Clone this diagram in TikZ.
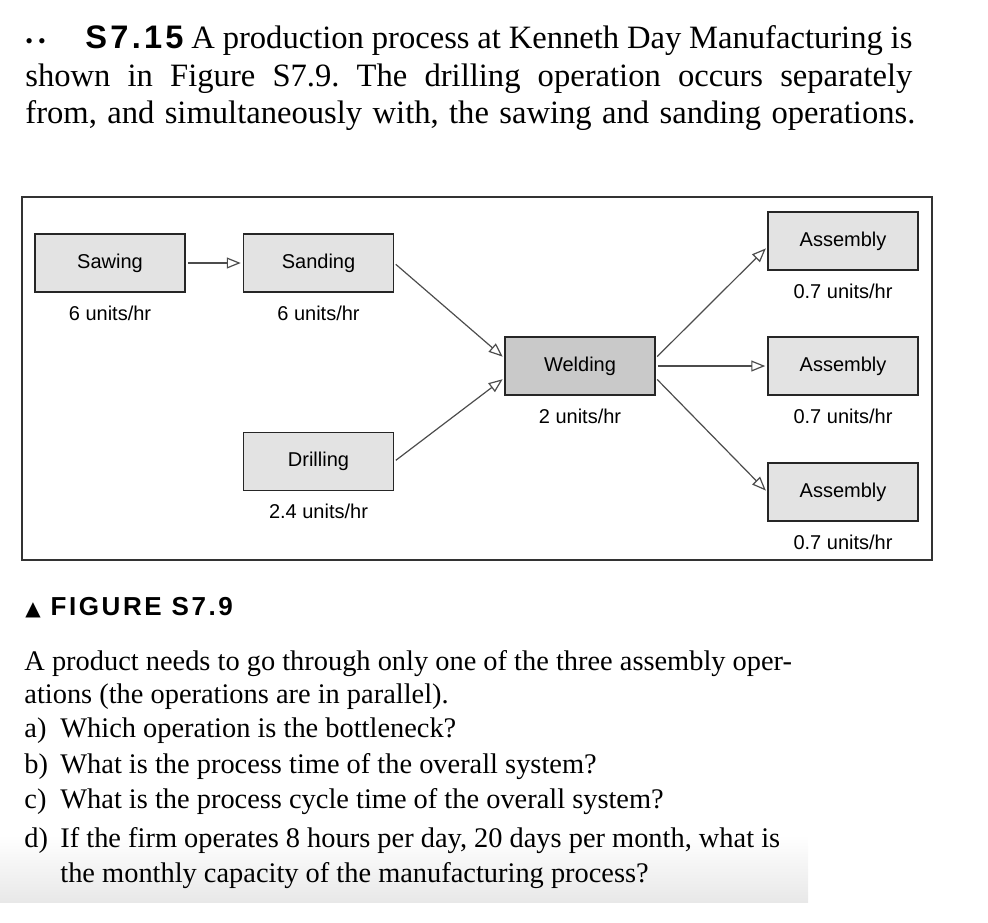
\documentclass[tikz,border=0pt]{standalone}
\usepackage{fontspec}
\setmainfont{Liberation Serif}
\setsansfont{Liberation Sans}
\newfontfamily\capfont[LetterSpace=10]{Liberation Sans}
\newfontfamily\symfont{DejaVu Sans}
\usetikzlibrary{arrows.meta,positioning}
\frenchspacing

\begin{document}
\begin{tikzpicture}[x=0.5pt,y=-0.5pt,node distance=3pt,
op/.style={draw=black!85,line width=0.75pt,fill=gray!22,minimum width=75pt,minimum height=29pt,font=\sffamily\fontsize{10}{12}\selectfont},
rate/.style={font=\sffamily\fontsize{10}{12}\selectfont},
flow/.style={draw=black!70,line width=0.6pt,shorten >=1pt,shorten <=1pt,-{Triangle[open,length=7pt,width=5.5pt]}},
txt/.style={anchor=base west,inner sep=0pt,font=\fontsize{16.3}{19}\selectfont},
qtxt/.style={anchor=base west,inner sep=0pt,font=\fontsize{14.2}{17}\selectfont}]

\useasboundingbox (0,0) rectangle (988,922);
\shade[top color=white,bottom color=black!9] (0,835) rectangle (808,902);

% problem statement
\node[txt] (h1) at (25,48) {\makebox[443.5pt][s]{\makebox[30pt][l]{\fontsize{11}{11}\selectfont\textbullet\hspace{2.5pt}\textbullet}{\capfont\bfseries S7.15} A production process at Kenneth Day Manufacturing is}};
\node[txt] (h2) at (25,86) {\makebox[443.5pt][s]{shown in Figure S7.9. The drilling operation occurs separately}};
\node[txt] (h3) at (25,123) {\makebox[445pt][s]{from, and simultaneously with, the sawing and sanding operations.}};

% figure
\draw[black!80,line width=0.8pt] (22,197) rectangle (932,560);

\node[op] (saw) at (110,263) {Sawing};
\node[op,right=28.5pt of saw] (sand) {Sanding};
\node[op,below=69.5pt of sand] (drill) {Drilling};
\node[op,fill=gray!42] (weld) at (580,366) {Welding};
\node[op] (asm1) at (843,241) {Assembly};
\node[op] (asm2) at (843,366) {Assembly};
\node[op] (asm3) at (843,492) {Assembly};

\node[rate,below=of saw] (sawr) {6 units/hr};
\node[rate,below=of sand] (sandr) {6 units/hr};
\node[rate,below=of drill] (drillr) {2.4 units/hr};
\node[rate,below=of weld] (weldr) {2 units/hr};
\node[rate,below=of asm1] (asm1r) {0.7 units/hr};
\node[rate,below=of asm2] (asm2r) {0.7 units/hr};
\node[rate,below=of asm3] (asm3r) {0.7 units/hr};

\draw[flow] (saw) -- (sand);
\draw[flow] (sand.east) -- ([yshift=4pt]weld.west);
\draw[flow] (drill.east) -- ([yshift=-6pt]weld.west);
\draw[flow] ([yshift=4pt]weld.east) -- ([yshift=-3pt]asm1.west);
\draw[flow] (weld) -- (asm2);
\draw[flow] ([yshift=-6pt]weld.east) -- (asm3.west);

\node[anchor=base west,inner sep=0pt,font=\capfont\bfseries\fontsize{13}{15}\selectfont] (cap) at (25,615) {{\symfont\fontsize{10}{12}\selectfont ▲} FIGURE S7.9};

% questions
\node[qtxt] (q1) at (24,670) {A product needs to go through only one of the three assembly oper-};
\node[qtxt] (q2) at (24,703) {ations (the operations are in parallel).};
\node[qtxt] (q3) at (24,737) {\makebox[18pt][l]{a)}Which operation is the bottleneck?};
\node[qtxt] (q4) at (24,773) {\makebox[18pt][l]{b)}What is the process time of the overall system?};
\node[qtxt] (q5) at (24,808) {\makebox[18pt][l]{c)}What is the process cycle time of the overall system?};
\node[qtxt] (q6) at (24,847) {\makebox[18pt][l]{d)}If the firm operates 8 hours per day, 20 days per month, what is};
\node[qtxt] (q7) at (60,882) {the monthly capacity of the manufacturing process?};
\end{tikzpicture}
\end{document}
